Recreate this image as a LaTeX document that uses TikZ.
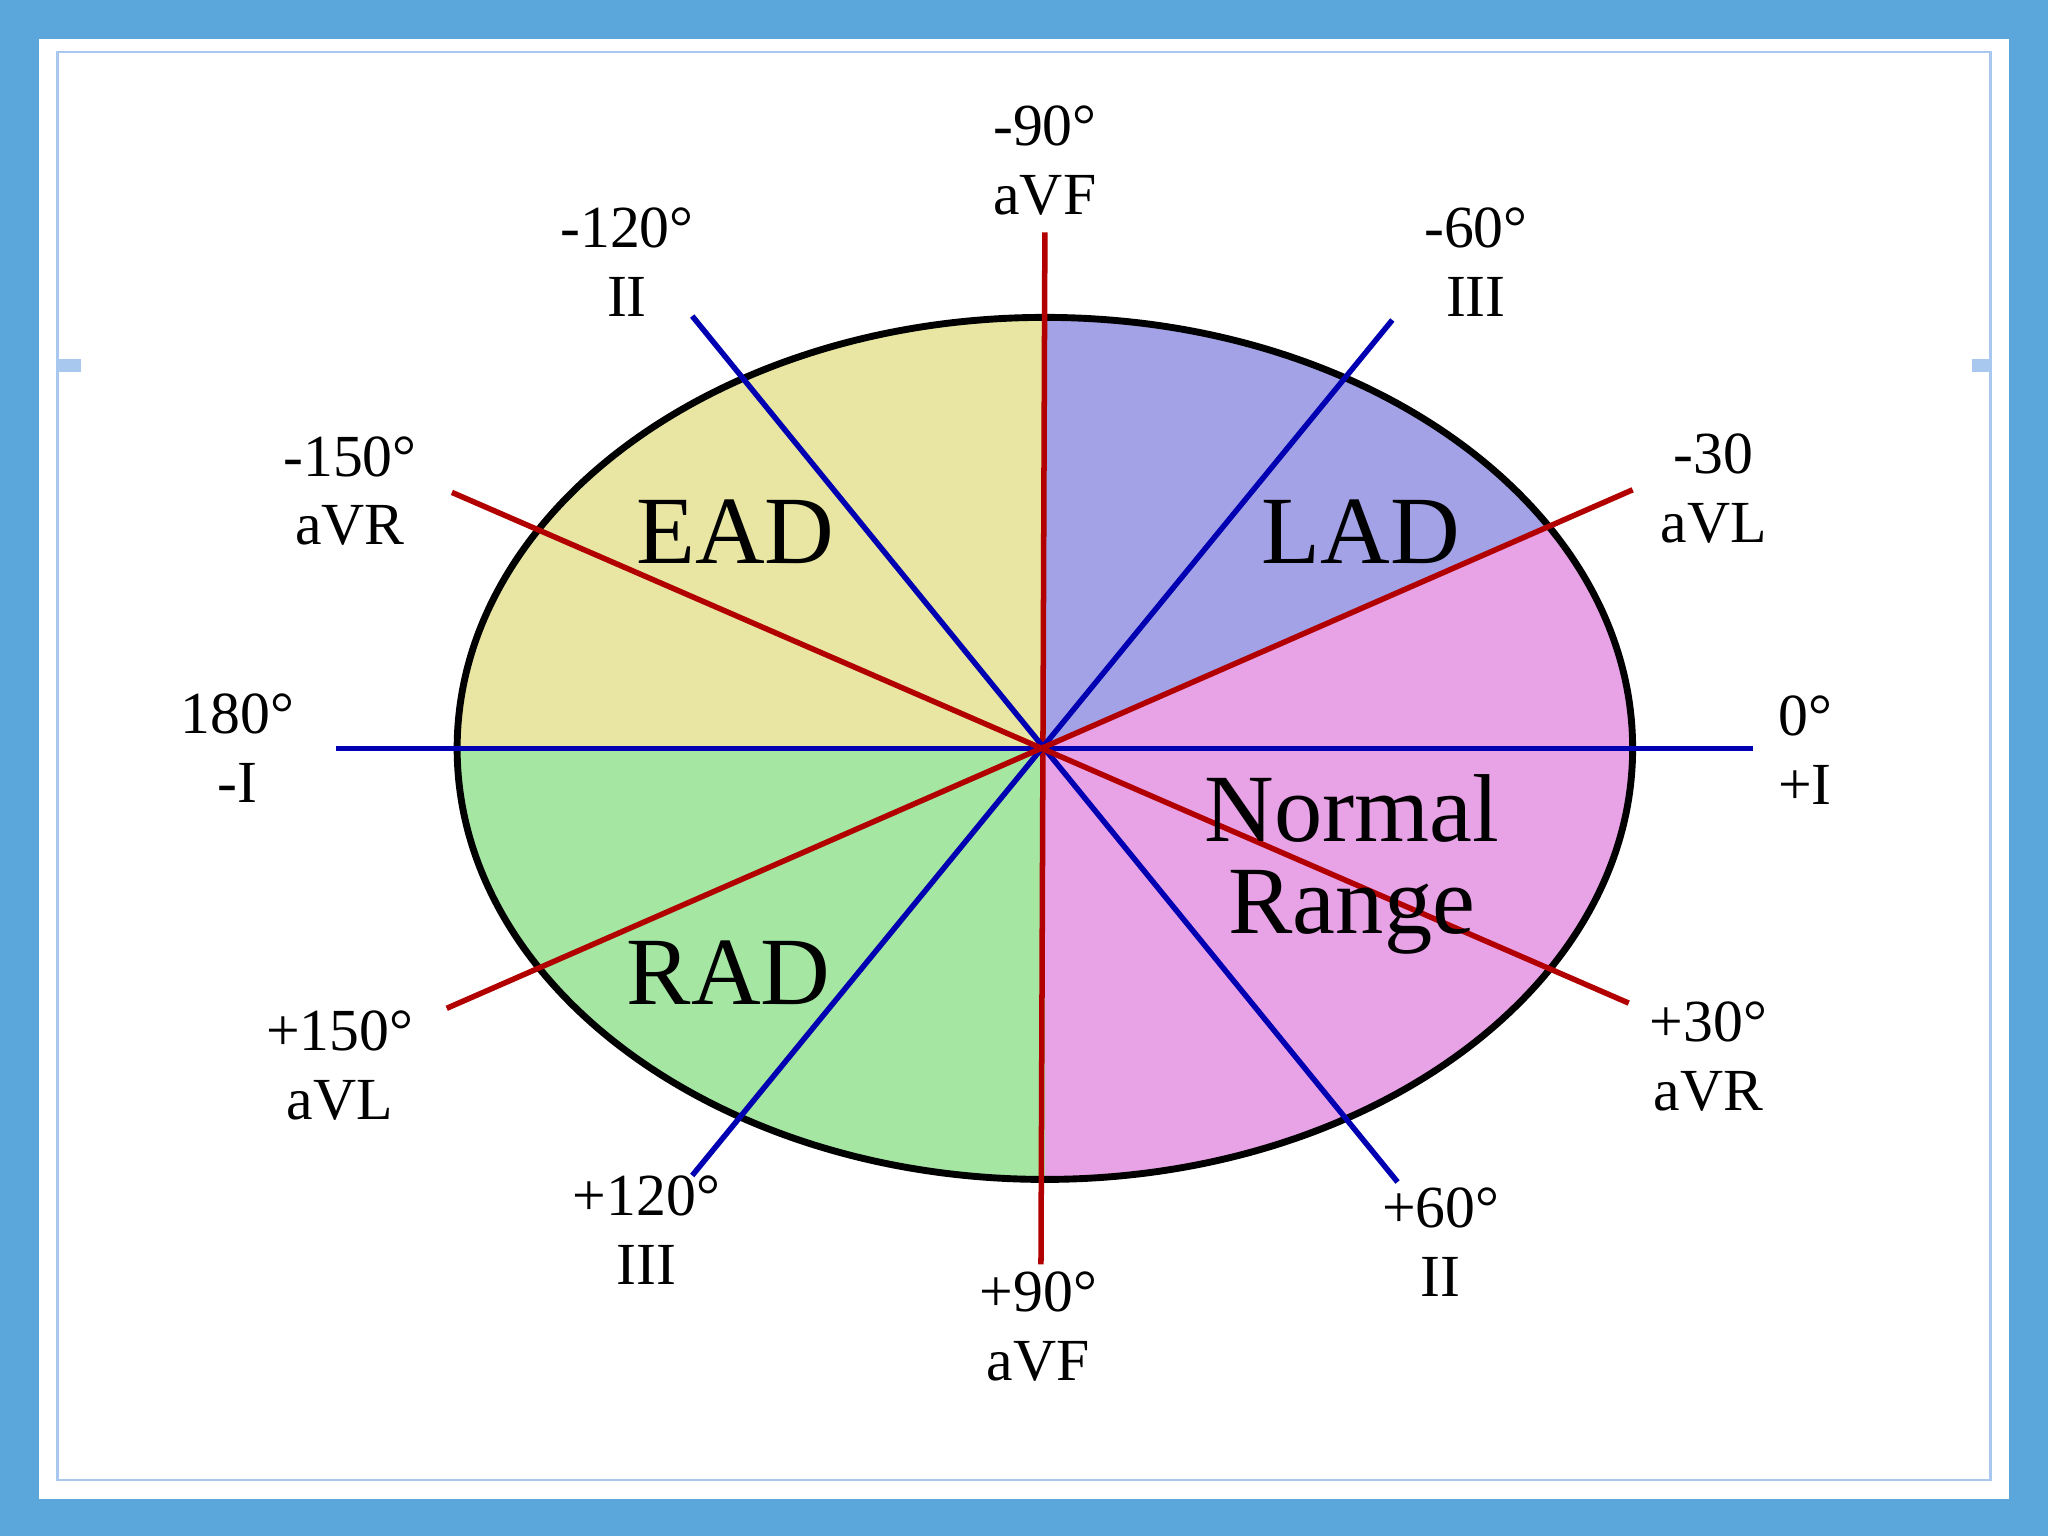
\documentclass[tikz,border=0pt]{standalone}
\usepackage{fontspec}
\setmainfont{Liberation Serif}
\begin{document}
\begin{tikzpicture}[x=0.01cm,y=-0.01cm,
  lbl/.style={align=center,font=\fontsize{13}{15}\selectfont,inner sep=0pt},
  big/.style={align=center,font=\fontsize{21}{20}\selectfont,inner sep=0pt},
  redl/.style={draw=red!70!black,line width=1.2pt},
  bluel/.style={draw=blue!70!black,line width=1.2pt}]
\definecolor{bg}{HTML}{5BA6DA}
\definecolor{ead}{HTML}{E8E6A2}
\definecolor{lad}{HTML}{A4A2E6}
\definecolor{nor}{HTML}{E8A2E6}
\definecolor{rad}{HTML}{A4E6A2}
\definecolor{frame}{HTML}{A8C8F0}
\useasboundingbox (0,0) rectangle (1568,1176);
\fill[bg] (0,0) rectangle (1568,1176);
\fill[white] (30,30) rectangle (1538,1148);
\draw[frame,line width=0.5pt] (44,40) rectangle (1524,1133);
\fill[frame] (44,275) rectangle (62,285);
\fill[frame] (1510,275) rectangle (1524,285);
\coordinate (c) at (800,573);
\begin{scope}
\clip (c) ellipse [x radius=450, y radius=330];
\fill[ead] (c) -- (800,0) -- (0,0) -- (0,573) -- cycle;
\fill[lad] (c) -- (800,0) -- (1600,0) -- (1600,221) -- cycle;
\fill[nor] (c) -- (1600,221) -- (1600,1200) -- (800,1200) -- cycle;
\fill[rad] (c) -- (0,573) -- (0,1200) -- (800,1200) -- cycle;
\end{scope}
\draw[line width=1.5pt] (c) ellipse [x radius=450, y radius=330];
\coordinate (t) at (800,178); \coordinate (b) at (797,968);
\coordinate (l) at (257,573); \coordinate (r) at (1342,573);
\coordinate (a1) at (1066,245); \coordinate (a2) at (530,900);
\coordinate (b1) at (530,242); \coordinate (b2) at (1070,905);
\coordinate (c1) at (346,377); \coordinate (c2) at (1247,768);
\coordinate (d1) at (1250,375); \coordinate (d2) at (342,772);
\draw[redl] (t) -- (b);
\draw[bluel] (l) -- (r);
\draw[bluel] (a1) -- (a2);
\draw[bluel] (b1) -- (b2);
\draw[redl] (c1) -- (c2);
\draw[redl] (d1) -- (d2);
\node[lbl] (n1) at (800,123) {-90°\\aVF};
\node[lbl] (n2) at (480,201) {-120°\\II};
\node[lbl] (n3) at (1130,201) {-60°\\III};
\node[lbl] (n4) at (268,376) {-150°\\aVR};
\node[lbl] (n5) at (1312,374) {-30\\aVL};
\node[lbl] (n6) at (182,573) {180°\\-I};
\node[lbl] (n7) at (1382,574) {0°\\+I};
\node[lbl] (n8) at (260,816) {+150°\\aVL};
\node[lbl] (n9) at (1308,809) {+30°\\aVR};
\node[lbl] (n10) at (495,942) {+120°\\III};
\node[lbl] (n11) at (1103,951) {+60°\\II};
\node[lbl] (n12) at (795,1016) {+90°\\aVF};
\node[big] (e) at (563,407) {EAD};
\node[big] (la) at (1042,407) {LAD};
\node[big] (nr) at (1035,662) {Normal\\Range};
\node[big] (ra) at (558,745) {RAD};
\end{tikzpicture}
\end{document}
